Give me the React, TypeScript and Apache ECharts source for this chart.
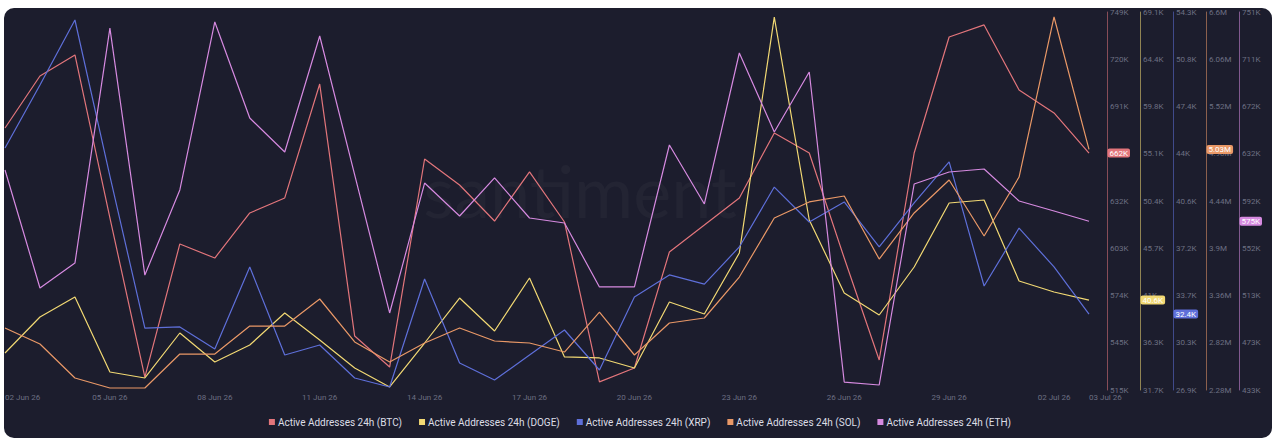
import React, { useEffect, useRef } from 'react';
import * as echarts from 'echarts';

// Daily dates on the x axis
const dates = [
  '02 Jun 26', '03 Jun 26', '04 Jun 26', '05 Jun 26', '06 Jun 26', '07 Jun 26', '08 Jun 26', '09 Jun 26',
  '10 Jun 26', '11 Jun 26', '12 Jun 26', '13 Jun 26', '14 Jun 26', '15 Jun 26', '16 Jun 26', '17 Jun 26',
  '18 Jun 26', '19 Jun 26', '20 Jun 26', '21 Jun 26', '22 Jun 26', '23 Jun 26', '24 Jun 26', '25 Jun 26',
  '26 Jun 26', '27 Jun 26', '28 Jun 26', '29 Jun 26', '30 Jun 26', '01 Jul 26', '02 Jul 26', '03 Jul 26',
];

// Active addresses (24h) per asset
const btc = [677500, 709700, 722700, 621800, 523300, 605700, 597000, 624900, 634200, 704700, 548700, 529500, 658300, 642200, 619900, 650300, 619300, 520300, 528900, 600700, 617400, 634200, 674400, 662000, 597000, 533900, 662000, 733800, 741300, 701000, 686800, 662000];
const doge = [35360, 38920, 40900, 33480, 32890, 37340, 34470, 36150, 39320, 36650, 33880, 32000, 36350, 40800, 37540, 42780, 34970, 34870, 33880, 40410, 39220, 45260, 68600, 48520, 41300, 39120, 43870, 50200, 50500, 42480, 41400, 40600];
const xrp = [44440, 49010, 53720, 42410, 31390, 31470, 29870, 35820, 29440, 30160, 27770, 27120, 34950, 28860, 27620, 29440, 31250, 28350, 33640, 35240, 34580, 37270, 41610, 39080, 40530, 37270, 40460, 43430, 34440, 38640, 35820, 32400];
const sol = [2989000, 2806000, 2417000, 2303000, 2303000, 2691000, 2691000, 3011000, 3011000, 3320000, 2829000, 2600000, 2817000, 2989000, 2840000, 2817000, 2714000, 3171000, 2680000, 3046000, 3103000, 3571000, 4246000, 4429000, 4497000, 3777000, 4303000, 4680000, 4040000, 4714000, 6543000, 5030000];
const eth = [618100, 518800, 539800, 737500, 529700, 601300, 742600, 661800, 633200, 730800, 613900, 497800, 607100, 579400, 611400, 577700, 573500, 519700, 519700, 639100, 589500, 716500, 650100, 700500, 439700, 437200, 606300, 616400, 618900, 592000, 583600, 575000];

// Axis ranges and their tick labels (bottom to top)
const btcRange = [515300, 749300];
const dogeRange = [31700, 69100];
const xrpRange = [26900, 54300];
const solRange = [2280000, 6600000];
const ethRange = [433000, 751000];

const btcTicks = ['515K', '545K', '574K', '603K', '632K', '662K', '691K', '720K', '749K'];
const dogeTicks = ['31.7K', '36.3K', '41K', '45.7K', '50.4K', '55.1K', '59.8K', '64.4K', '69.1K'];
const xrpTicks = ['26.9K', '30.3K', '33.7K', '37.2K', '40.6K', '44K', '47.4K', '50.8K', '54.3K'];
const solTicks = ['2.28M', '2.82M', '3.36M', '3.9M', '4.44M', '4.98M', '5.52M', '6.06M', '6.6M'];
const ethTicks = ['433K', '473K', '513K', '552K', '592K', '632K', '672K', '711K', '751K'];

const seriesNames = [
  'Active Addresses 24h (BTC)',
  'Active Addresses 24h (DOGE)',
  'Active Addresses 24h (XRP)',
  'Active Addresses 24h (SOL)',
  'Active Addresses 24h (ETH)',
];
const seriesColors = ['#e2757b', '#f1d873', '#5e6fd9', '#e99867', '#d68ae0'];

const FONT = 'Roboto, "Liberation Sans", sans-serif';

const compact = (v: number) => {
  if (v >= 1e6) return `${parseFloat((v / 1e6).toFixed(2))}M`;
  if (v >= 1e5) return `${Math.round(v / 1e3)}K`;
  return `${parseFloat((v / 1e3).toFixed(1))}K`;
};

export default function App() {
  const ref = useRef<HTMLDivElement>(null);

  useEffect(() => {
    if (!ref.current) return;
    const chart = echarts.init(ref.current, null, { renderer: 'svg' });

    const defs = [
      { data: btc, range: btcRange, ticks: btcTicks },
      { data: doge, range: dogeRange, ticks: dogeTicks },
      { data: xrp, range: xrpRange, ticks: xrpTicks },
      { data: sol, range: solRange, ticks: solTicks },
      { data: eth, range: ethRange, ticks: ethTicks },
    ];

    const yAxis = defs.map((d, k) => {
      const [min, max] = d.range;
      const step = (max - min) / (d.ticks.length - 1);
      const values = d.ticks.map((_, i) => min + i * step);
      return {
        type: 'value',
        position: 'right',
        offset: 18 + 33 * k,
        min,
        max,
        splitLine: { show: false },
        axisTick: { show: false },
        axisLine: { show: true, lineStyle: { color: seriesColors[k], opacity: 0.55, width: 1 } },
        axisLabel: {
          show: true,
          customValues: values,
          margin: 3,
          color: '#6c6f82',
          fontSize: 8,
          fontFamily: FONT,
          formatter: (v: number) => d.ticks[Math.round((v - min) / step)] ?? '',
        },
      };
    });

    const series = defs.map((d, k) => {
      const last = d.data.length - 1;
      return {
        name: seriesNames[k],
        type: 'line',
        yAxisIndex: k,
        data: d.data,
        showSymbol: false,
        symbol: 'none',
        lineStyle: { color: seriesColors[k], width: 1.2 },
        itemStyle: { color: seriesColors[k] },
        markPoint: {
          symbol: 'circle',
          symbolSize: 1,
          itemStyle: { color: 'rgba(0,0,0,0)' },
          label: {
            show: true,
            position: 'right',
            distance: 0,
            offset: [18 + 33 * k, 0],
            backgroundColor: seriesColors[k],
            borderRadius: 2,
            padding: [1, 2, 0, 2],
            color: '#ffffff',
            fontSize: 8,
            fontFamily: FONT,
            formatter: () => compact(d.data[last]),
          },
          data: [{ coord: [last, d.data[last]], value: d.data[last] }],
        },
      };
    });

    chart.setOption({
      animation: false,
      backgroundColor: '#ffffff',
      color: seriesColors,
      graphic: [
        {
          type: 'rect',
          z: -10,
          silent: true,
          shape: { x: 4, y: 8, width: 1268, height: 430, r: 10 },
          style: { fill: '#1c1d2d' },
        },
        {
          type: 'text',
          z: -5,
          silent: true,
          x: 580,
          y: 190,
          style: {
            text: 'santiment',
            fontSize: 72,
            fontFamily: 'Lato, Roboto, sans-serif',
            fill: 'rgba(255,255,255,0.03)',
            textAlign: 'center',
            textVerticalAlign: 'middle',
          },
        },
      ],
      grid: { left: 5, right: 191, top: 12, bottom: 55, containLabel: false },
      legend: {
        top: 412,
        left: 'center',
        icon: 'rect',
        itemWidth: 6,
        itemHeight: 6,
        itemGap: 17,
        textStyle: { color: '#dcdde6', fontSize: 10, fontFamily: FONT, padding: [0, 0, 0, -2] },
        data: seriesNames,
      },
      xAxis: {
        type: 'category',
        data: dates,
        boundaryGap: false,
        axisLine: { show: false },
        axisTick: { show: false },
        splitLine: { show: false },
        axisLabel: {
          interval: (i: number) => i % 3 === 0 || i === dates.length - 1,
          color: '#6c6f82',
          fontSize: 8,
          fontFamily: FONT,
          margin: 3,
          alignMinLabel: 'left',
          alignMaxLabel: 'left',
        },
      },
      yAxis,
      series,
    });

    return () => chart.dispose();
  }, []);

  return (
    <div
      ref={ref}
      style={{ position: 'absolute', left: 0, top: 0, width: 1280, height: 445 }}
    />
  );
}
